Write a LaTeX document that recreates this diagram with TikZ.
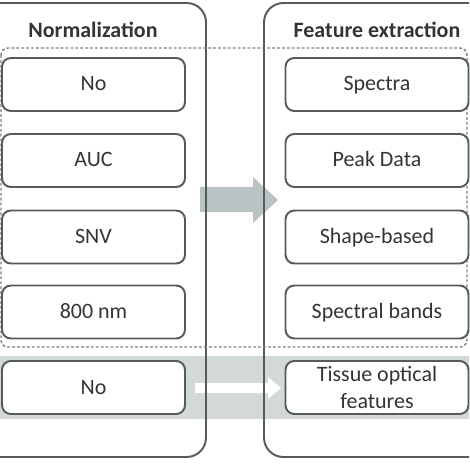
\documentclass[tikz,border=0pt]{standalone}
\usepackage{fontspec}
\setmainfont{Carlito}
\definecolor{lineC}{HTML}{555B5B}
\definecolor{bandC}{HTML}{D3D9D9}
\definecolor{arrC}{HTML}{B9C3C3}
\definecolor{dashC}{HTML}{7A8080}
\definecolor{txtC}{HTML}{333535}
\tikzset{
  panel/.style={draw=lineC, line width=1.1pt, rounded corners=11pt},
  itembox/.style={draw=lineC, line width=1.1pt, fill=white, rounded corners=5pt,
    minimum width=3.66cm, minimum height=1.06cm, inner sep=0pt, align=center,
    font=\fontsize{12.5}{15.3}\selectfont, text=txtC},
  oneline/.style={text height=1.8ex, text depth=0.25ex},
  title/.style={font=\fontsize{12.5}{15}\selectfont\bfseries, text=txtC},
}
\begin{document}
\begin{tikzpicture}[x=0.02cm, y=-0.02cm]
\useasboundingbox (0,0) rectangle (469,469);
\begin{scope}
\clip (0,0) rectangle (469,469);
% band
\fill[bandC] (-5,356) rectangle (475,419);
% arrows
\fill[arrC] (200,187) -- (253,187) -- (253,177) -- (278,200) -- (253,223) -- (253,212) -- (200,212) -- cycle;
\fill[white] (195,383) -- (268,383) -- (268,377) -- (281,388) -- (268,399) -- (268,393) -- (195,393) -- cycle;
% panels
\draw[panel] (-40,3) rectangle (206,457);
\draw[panel] (264,3) rectangle (510,457);
% dashed region
\draw[dashC, line width=0.8pt, dash pattern=on 1.6pt off 1.2pt, rounded corners=4pt] (1,48) rectangle (467,347);
\end{scope}
\node[title] (tn) at (93,30) {Normalization};
\node[title] (tf) at (377,30) {Feature extraction};
\node[itembox, oneline] (n1) at (93.5,84.5) {No};
\node[itembox, oneline] (n2) at (93.5,160.5) {AUC};
\node[itembox, oneline] (n3) at (93.5,237) {SNV};
\node[itembox, oneline] (n4) at (93.5,312) {800 nm};
\node[itembox, oneline] (n5) at (93.5,387.5) {No};
\node[itembox, oneline] (f1) at (377,84.5) {Spectra};
\node[itembox, oneline] (f2) at (377,160.5) {Peak Data};
\node[itembox, oneline] (f3) at (377,237) {Shape-based};
\node[itembox, oneline] (f4) at (377,312) {Spectral bands};
\node[itembox] (f5) at (377,387.5) {\raisebox{-1.5pt}{Tissue optical}\\\raisebox{-1.5pt}{features}};
\end{tikzpicture}
\end{document}
